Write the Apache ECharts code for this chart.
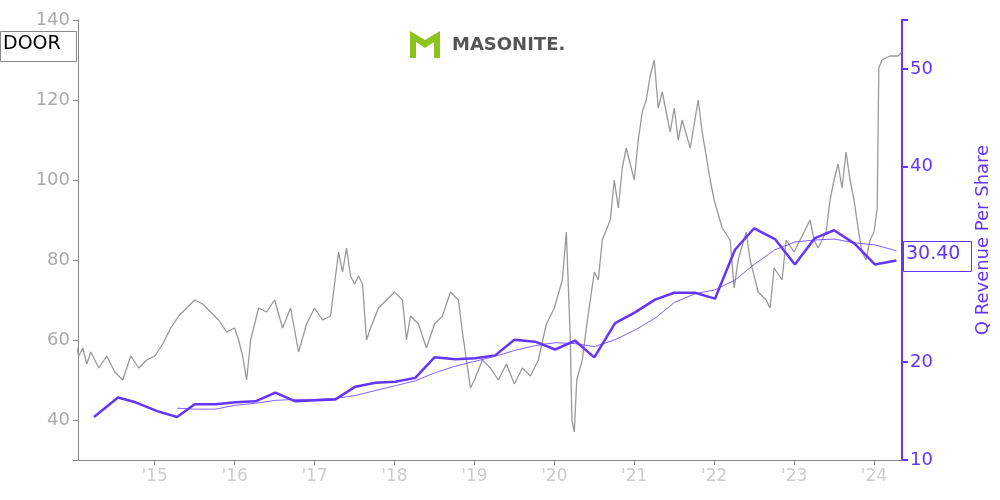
<!DOCTYPE html>
<html><head><meta charset="utf-8">
<script src="https://cdn.jsdelivr.net/npm/echarts@6/dist/echarts.min.js"></script>
<style>html,body{margin:0;background:#fff}#c{width:1000px;height:500px}</style>
</head><body><div id="c"></div>
<script>
const priceDates=[2014.0,2014.05,2014.1,2014.15,2014.2,2014.25,2014.3,2014.4,2014.5,2014.6,2014.7,2014.8,2014.9,2015.0,2015.1,2015.2,2015.3,2015.4,2015.5,2015.6,2015.7,2015.8,2015.9,2016.0,2016.05,2016.1,2016.15,2016.2,2016.3,2016.4,2016.5,2016.6,2016.7,2016.8,2016.9,2017.0,2017.1,2017.2,2017.3,2017.35,2017.4,2017.45,2017.5,2017.55,2017.6,2017.65,2017.7,2017.8,2017.9,2018.0,2018.1,2018.15,2018.2,2018.3,2018.35,2018.4,2018.5,2018.6,2018.7,2018.8,2018.85,2018.9,2018.95,2019.0,2019.1,2019.2,2019.3,2019.4,2019.5,2019.6,2019.7,2019.8,2019.9,2020.0,2020.1,2020.15,2020.2,2020.22,2020.25,2020.28,2020.35,2020.4,2020.5,2020.55,2020.6,2020.7,2020.75,2020.8,2020.85,2020.9,2021.0,2021.05,2021.1,2021.15,2021.2,2021.25,2021.3,2021.35,2021.45,2021.5,2021.55,2021.6,2021.7,2021.8,2021.85,2021.95,2022.0,2022.1,2022.2,2022.25,2022.3,2022.4,2022.45,2022.55,2022.65,2022.7,2022.75,2022.85,2022.9,2023.0,2023.1,2023.2,2023.25,2023.3,2023.4,2023.45,2023.5,2023.55,2023.6,2023.65,2023.7,2023.75,2023.8,2023.85,2023.9,2023.95,2024.0,2024.02,2024.04,2024.06,2024.1,2024.2,2024.3,2024.35];
const priceValues=[60,56,58,54,57,55,53,56,52,50,56,53,55,56,59,63,66,68,70,69,67,65,62,63,60,56,50,60,68,67,70,63,68,57,64,68,65,66,82,77,83,76,74,76,74,60,63,68,70,72,70,60,66,64,61,58,64,66,72,70,62,55,48,50,55,53,50,54,49,53,51,55,64,68,75,87,60,40,37,50,55,63,77,75,85,90,100,93,103,108,100,110,117,120,126,130,118,122,112,118,110,115,108,120,112,100,95,88,85,73,80,87,80,72,70,68,78,75,85,82,86,90,85,83,87,95,100,104,98,107,100,95,88,82,80,85,87,90,93,128,130,131,131,132];
const revDates=[2014.24,2014.54,2014.76,2015.03,2015.28,2015.5,2015.76,2016.01,2016.26,2016.51,2016.76,2017.01,2017.26,2017.51,2017.76,2018.01,2018.26,2018.5,2018.76,2019.01,2019.26,2019.5,2019.76,2020.01,2020.26,2020.5,2020.76,2021.01,2021.26,2021.5,2021.76,2022.01,2022.26,2022.5,2022.76,2023.01,2023.26,2023.5,2023.76,2024.01,2024.28];
const revValues=[14.4,16.4,15.9,15.0,14.4,15.7,15.7,15.9,16.0,16.9,16.0,16.1,16.2,17.5,17.9,18.0,18.4,20.5,20.3,20.4,20.7,22.3,22.1,21.3,22.2,20.5,24.0,25.1,26.4,27.1,27.1,26.5,31.5,33.7,32.6,30.0,32.7,33.5,32.1,30.0,30.4];
const avgDates=revDates.slice(4);
const avgValues=[15.3,15.2,15.2,15.6,15.8,16.1,16.2,16.2,16.3,16.6,17.1,17.6,18.1,18.9,19.6,20.1,20.6,21.2,21.7,22.0,21.9,21.6,22.3,23.3,24.5,26.1,27.0,27.4,28.4,30.0,31.5,32.3,32.5,32.6,32.2,32.0,31.4];
const yearTicks=[2015,2016,2017,2018,2019,2020,2021,2022,2023,2024];
const priceTicks=[40,60,80,100,120,140];
const zip=(a,b)=>a.map((x,i)=>[x,b[i]]);
const purple='#6236ff', gray='#999';
const F='DejaVu Sans';
const chart=echarts.init(document.getElementById('c'));
chart.setOption({
  animation:false,
  textStyle:{fontFamily:F},
  grid:{left:78,right:98,top:20,bottom:40},
  xAxis:{type:'value',min:2014.04,max:2024.35,
    axisLine:{lineStyle:{color:'#888'}},splitLine:{show:false},
    axisTick:{customValues:yearTicks,lineStyle:{color:'#888'}},
    axisLabel:{customValues:yearTicks,color:'#ccc',fontSize:17,fontFamily:F,formatter:v=>"'"+String(Math.round(v)).slice(2)}},
  yAxis:[
    {type:'value',min:30,max:140,position:'left',splitLine:{show:false},
      axisLine:{show:true,lineStyle:{color:'#888'}},
      axisTick:{show:true,customValues:[30,40,60,80,100,120,140],lineStyle:{color:'#888'}},
      axisLabel:{customValues:priceTicks,color:'#aaa',fontSize:18,fontFamily:F}},
    {type:'value',min:10,max:55,interval:10,position:'right',splitLine:{show:false},
      axisLine:{show:true,lineStyle:{color:purple,width:2}},
      axisTick:{show:true,lineStyle:{color:purple,width:2},length:6},
      axisLabel:{color:purple,fontSize:18,fontFamily:F,formatter:v=>v>50?'':v},
      name:'Q Revenue Per Share',nameLocation:'middle',nameGap:72,nameRotate:90,
      nameTextStyle:{color:purple,fontSize:18,fontFamily:F}}
  ],
  series:[
    {type:'line',data:zip(priceDates,priceValues),yAxisIndex:0,symbol:'none',lineStyle:{color:gray,width:1.3}},
    {type:'line',data:zip(avgDates,avgValues),yAxisIndex:1,symbol:'none',lineStyle:{color:purple,width:0.8}},
    {type:'line',data:zip(revDates,revValues),yAxisIndex:1,symbol:'none',lineStyle:{color:purple,width:2.5}}
  ],
  graphic:[
    {type:'rect',z:100,left:0,top:31,shape:{width:76,height:30},style:{fill:'#fff',stroke:'#888',lineWidth:1}},
    {type:'text',z:101,left:3,top:35,style:{text:'DOOR',fontSize:19,fill:'#000',fontFamily:F}},
    {type:'rect',z:100,left:903,top:241,shape:{width:68,height:30},style:{fill:'#fff',stroke:purple,lineWidth:1}},
    {type:'text',z:101,left:906,top:245,style:{text:'30.40',fontSize:19,fill:purple,fontFamily:F}},
    {type:'polygon',shape:{points:[[410,58],[410,31],[425,40],[440,31],[440,58],[434,58],[434,42],[425,48],[416,42],[416,58]]},style:{fill:'#8dc21f'}},
    {type:'text',left:452,top:36,style:{text:'MASONITE.',fontSize:18,fontWeight:'bold',fill:'#555',fontFamily:F}}
  ]
});
</script></body></html>
